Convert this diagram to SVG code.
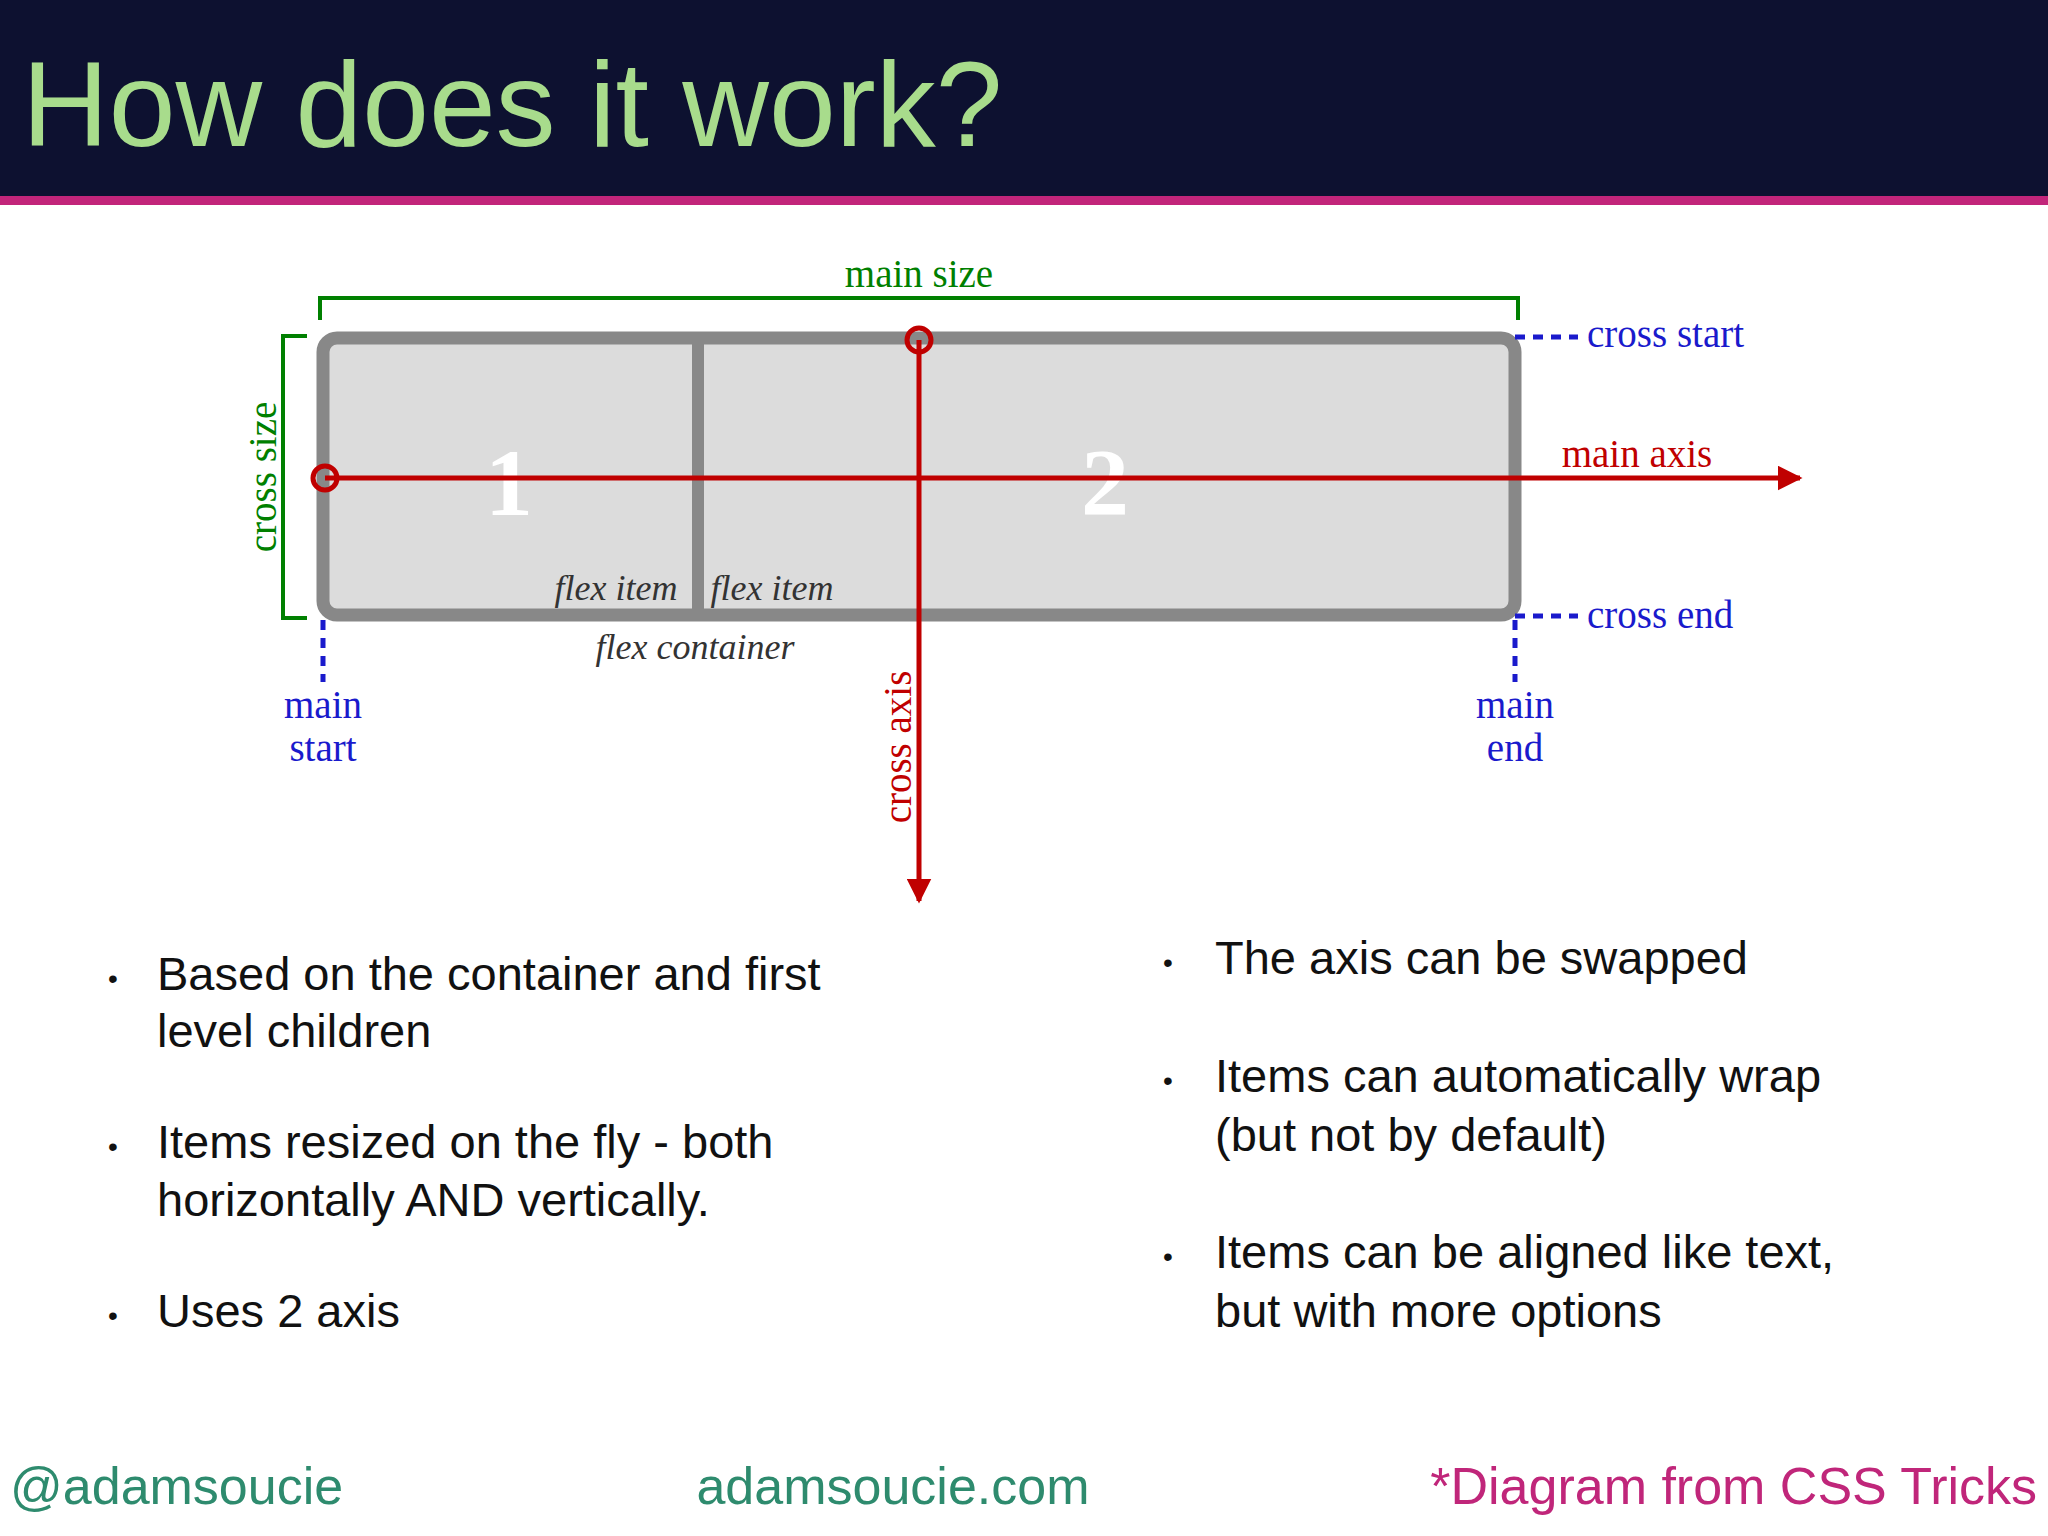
<svg xmlns="http://www.w3.org/2000/svg" width="2048" height="1536" viewBox="0 0 2048 1536">
<defs>
<style>
.s{font-family:"Liberation Serif","DejaVu Serif",serif;font-size:39px}
.g{fill:#008000}.b{fill:#1a1acc}.r{fill:#c00000}
.it{font-family:"Liberation Serif",serif;font-style:italic;font-size:36px;fill:#333;text-anchor:middle}
.num{font-family:"Liberation Serif",serif;font-weight:bold;font-size:96px;fill:#fff;text-anchor:middle}
.bl{font-family:"Liberation Sans",Arial,sans-serif;font-size:47px;fill:#111}
.dot{font-family:"Liberation Sans",sans-serif;font-size:28px;fill:#111}
.ft{font-family:"Liberation Sans",Arial,sans-serif;font-size:52px}
.dash{stroke:#1a1acc;stroke-width:5;stroke-dasharray:10 8;fill:none}
</style>
<marker id="ah" viewBox="0 0 10 10" refX="9" refY="5" markerWidth="5" markerHeight="5" orient="auto"><path d="M0,0L10,5L0,10z" fill="#c00000"/></marker>
</defs>
<rect width="2048" height="1536" fill="#fff"/>
<g id="header"><rect width="2048" height="197" fill="#0d1130"/><rect y="196" width="2048" height="9" fill="#c2257a"/>
<text x="22" y="146" font-family="Liberation Sans,Arial,sans-serif" font-size="120" fill="#a8dc8c">How does it work?</text></g>
<g id="container"><rect x="323" y="338" width="1192" height="277" rx="14" fill="#dcdcdc" stroke="#888" stroke-width="13"/>
<line x1="698" y1="338" x2="698" y2="615" stroke="#888" stroke-width="12"/>
<text class="num" x="509" y="515">1</text><text class="num" x="1105" y="515">2</text>
<text class="it" x="616" y="600">flex item</text><text class="it" x="772" y="600">flex item</text>
<text class="it" x="695" y="659">flex container</text></g>
<g id="connectors">
<path d="M320,320V298H1518V320" stroke="#008000" stroke-width="4" fill="none"/>
<path d="M307,336H283V618H307" stroke="#008000" stroke-width="4" fill="none"/>
<line x1="325" y1="478" x2="1800" y2="478" stroke="#c00000" stroke-width="5" marker-end="url(#ah)"/>
<line x1="919" y1="340" x2="919" y2="901" stroke="#c00000" stroke-width="5" marker-end="url(#ah)"/>
<circle cx="325" cy="478" r="12" fill="none" stroke="#c00000" stroke-width="5"/>
<circle cx="919" cy="340" r="12" fill="none" stroke="#c00000" stroke-width="5"/>
<line class="dash" x1="1515" y1="337" x2="1578" y2="337"/>
<line class="dash" x1="1515" y1="616" x2="1578" y2="616"/>
<line class="dash" x1="323" y1="620" x2="323" y2="682"/>
<line class="dash" x1="1515" y1="620" x2="1515" y2="682"/>
</g>
<g id="labels">
<text class="s g" x="919" y="287" text-anchor="middle">main size</text>
<text class="s g" transform="translate(276,477) rotate(-90)" text-anchor="middle">cross size</text>
<text class="s r" x="1637" y="467" text-anchor="middle">main axis</text>
<text class="s r" transform="translate(911,747) rotate(-90)" text-anchor="middle">cross axis</text>
<text class="s b" x="1587" y="347">cross start</text>
<text class="s b" x="1587" y="628">cross end</text>
<text class="s b" x="323" y="718" text-anchor="middle">main</text><text class="s b" x="323" y="761" text-anchor="middle">start</text>
<text class="s b" x="1515" y="718" text-anchor="middle">main</text><text class="s b" x="1515" y="761" text-anchor="middle">end</text>
</g>
<g id="bullets">
<text class="dot" x="108" y="988">•</text><text class="bl" x="157" y="990">Based on the container and first</text><text class="bl" x="157" y="1047">level children</text>
<text class="dot" x="108" y="1156">•</text><text class="bl" x="157" y="1158">Items resized on the fly - both</text><text class="bl" x="157" y="1216">horizontally AND vertically.</text>
<text class="dot" x="108" y="1325">•</text><text class="bl" x="157" y="1327">Uses 2 axis</text>
<text class="dot" x="1163" y="972">•</text><text class="bl" x="1215" y="974">The axis can be swapped</text>
<text class="dot" x="1163" y="1090">•</text><text class="bl" x="1215" y="1092">Items can automatically wrap</text><text class="bl" x="1215" y="1151">(but not by default)</text>
<text class="dot" x="1163" y="1266">•</text><text class="bl" x="1215" y="1268">Items can be aligned like text,</text><text class="bl" x="1215" y="1327">but with more options</text>
</g>
<g id="footer">
<text class="ft" x="10" y="1504" fill="#2e8b6e">@adamsoucie</text>
<text class="ft" x="893" y="1504" fill="#2e8b6e" text-anchor="middle">adamsoucie.com</text>
<text class="ft" x="2037" y="1504" fill="#c0267a" text-anchor="end">*Diagram from CSS Tricks</text>
</g>
</svg>
